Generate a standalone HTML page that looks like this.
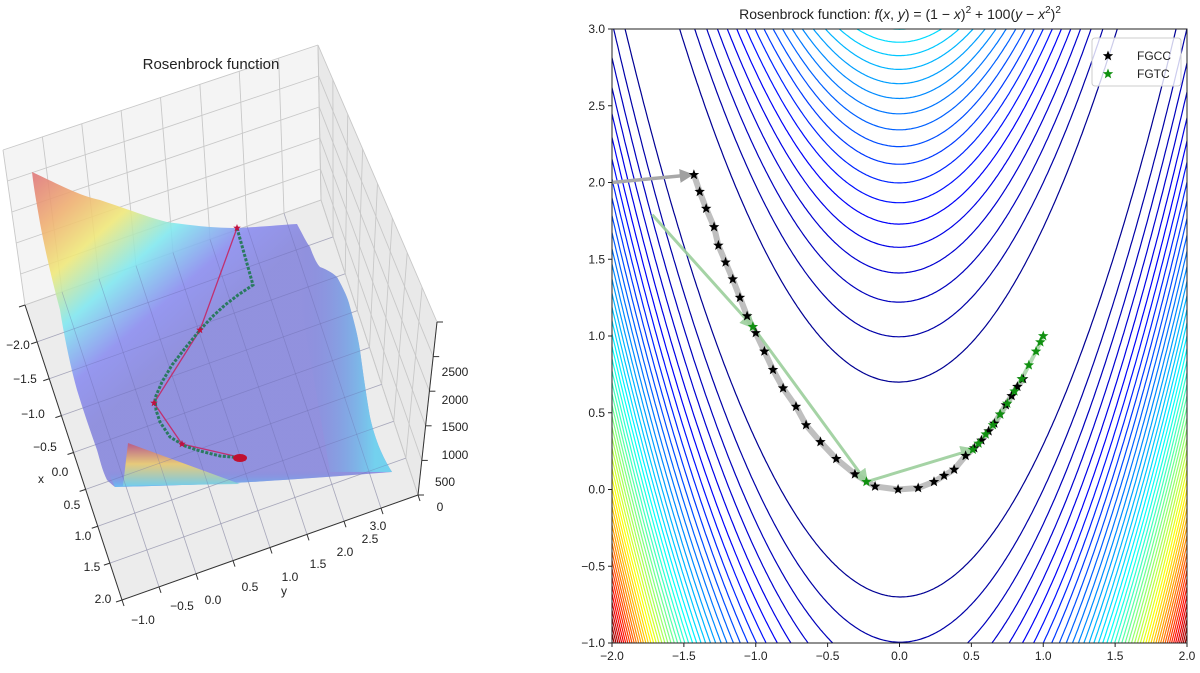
<!DOCTYPE html>
<html><head><meta charset="utf-8">
<style>
html,body{margin:0;padding:0;background:#fff;overflow:hidden;width:1200px;height:673px;}
svg{display:block;font-family:"Liberation Sans","DejaVu Sans",sans-serif;}
</style></head>
<body>
<svg id="root" width="1200" height="673" viewBox="0 0 1200 673">
  <defs>
    <clipPath id="axclip"><rect x="612" y="29" width="575" height="614"/></clipPath>
    <linearGradient id="surfGrad" gradientUnits="userSpaceOnUse" x1="35" y1="175" x2="185" y2="345">
      <stop offset="0" stop-color="#e07878"/>
      <stop offset="0.2" stop-color="#f0b070"/>
      <stop offset="0.38" stop-color="#f0e878"/>
      <stop offset="0.58" stop-color="#80e8f0"/>
      <stop offset="0.8" stop-color="#8a8cf0"/>
      <stop offset="1" stop-color="#8585dc"/>
    </linearGradient>
    <linearGradient id="rightGrad" gradientUnits="userSpaceOnUse" x1="300" y1="300" x2="375" y2="300">
      <stop offset="0" stop-color="#8585dc" stop-opacity="0"/>
      <stop offset="1" stop-color="#70d8f0" stop-opacity="0.9"/>
    </linearGradient>
    <linearGradient id="wedgeGrad" gradientUnits="userSpaceOnUse" x1="125" y1="445" x2="125" y2="487">
      <stop offset="0" stop-color="#c06080"/>
      <stop offset="0.45" stop-color="#f0d070"/>
      <stop offset="1" stop-color="#70d0f0"/>
    </linearGradient>
    <linearGradient id="bottomGrad" gradientUnits="userSpaceOnUse" x1="0" y1="470" x2="0" y2="488">
      <stop offset="0" stop-color="#8585dc" stop-opacity="0"/>
      <stop offset="1" stop-color="#60c8f8" stop-opacity="0.9"/>
    </linearGradient>
    <marker id="grayHead" viewBox="0 0 10 10" refX="8" refY="5" markerWidth="4" markerHeight="4" orient="auto">
      <path d="M0,0 L10,5 L0,10 z" fill="#a0a0a0"/>
    </marker>
    <marker id="greenHead" viewBox="0 0 10 10" refX="8" refY="5" markerWidth="5" markerHeight="5" orient="auto">
      <path d="M0,0 L10,5 L0,10 z" fill="#9ccf9c"/>
    </marker>
  </defs>

  <!-- ===== LEFT 3D PLOT ===== -->
  <g id="left3d">
    <g id="panes"></g>
    <g id="surface">
      <path d="M32,172 C60,185 80,196 100,200 C130,210 150,218 167,222 C195,226 215,228 237,228 C260,227 280,225 297,224 C303,235 306,242 310,247 C314,258 317,264 320,267 C328,270 334,274 337,277 C344,290 348,298 350,307 C355,325 358,337 360,350 C364,380 367,400 370,417 C375,440 383,458 392,472 C340,476 290,480 233,483 C190,485 150,486 115,487 C110,483 108,481 107,480 C102,470 100,460 97,450 C90,430 83,410 77,390 C70,365 64,335 60,310 C52,280 45,250 40,223 C37,205 34,190 32,172 Z" fill="url(#surfGrad)" opacity="0.88"/>
      <path d="M297,224 C303,235 306,242 310,247 C314,258 317,264 320,267 C328,270 334,274 337,277 C344,290 348,298 350,307 C355,325 358,337 360,350 C364,380 367,400 370,417 C375,440 383,458 392,472 L330,472 L300,300 Z" fill="url(#rightGrad)"/>
      <path d="M107,470 L392,465 L392,472 C340,476 290,480 233,483 C190,485 150,486 115,487 Z" fill="url(#bottomGrad)"/>
      <path d="M128,443 L123,486 L240,484 Z" fill="url(#wedgeGrad)" opacity="0.9"/>
    </g>
    <g id="surfgrid"></g>
    <g id="path3d"></g>
    <g id="axes3d"></g>
    <text x="211" y="69" font-size="15" text-anchor="middle" fill="#222">Rosenbrock function</text>
  </g>

  <!-- ===== RIGHT CONTOUR PLOT ===== -->
  <g id="right">
    <text x="900" y="19" font-size="14" text-anchor="middle" fill="#222">Rosenbrock function:  <tspan font-style="italic">f</tspan>(<tspan font-style="italic">x</tspan>, <tspan font-style="italic">y</tspan>) = (1 − <tspan font-style="italic">x</tspan>)<tspan dy="-6" font-size="10">2</tspan><tspan dy="6"> + 100(</tspan><tspan font-style="italic">y</tspan> − <tspan font-style="italic">x</tspan><tspan dy="-6" font-size="10">2</tspan><tspan dy="6">)</tspan><tspan dy="-6" font-size="10">2</tspan></text>
    <g id="contours" clip-path="url(#axclip)"></g>
    <g id="arrows" clip-path="url(#axclip)"></g>
    <g id="markers"></g>
    <rect x="612" y="29" width="575" height="614" fill="none" stroke="#222" stroke-width="1"/>
    <g id="ticks"></g>
    <g id="legend">
      <rect x="1092" y="38" width="89" height="48" rx="3" fill="#fff" fill-opacity="0.8" stroke="#ccc"/>
      <g id="legStars"></g>
      <text x="1137" y="60" font-size="12" fill="#222">FGCC</text>
      <text x="1137" y="78" font-size="12" fill="#222">FGTC</text>
    </g>
  </g>
</svg>

<script>
// ---- chart data ----
const levels = [];
for (let c = 50; c <= 2500; c += 50) levels.push(c);
const xTicks = [-2.0, -1.5, -1.0, -0.5, 0.0, 0.5, 1.0, 1.5, 2.0];
const yTicks = [-1.0, -0.5, 0.0, 0.5, 1.0, 1.5, 2.0, 2.5, 3.0];
const fgccX = [-1.43,-1.39,-1.345,-1.29,-1.26,-1.21,-1.16,-1.11,-1.06,-1.0,-0.94,-0.88,-0.81,-0.72,-0.65,-0.55,-0.44,-0.31,-0.17,-0.01,0.13,0.24,0.31,0.38,0.46,0.52,0.57,0.62,0.66,0.70,0.74,0.78,0.82,0.86];
const fgccY = [2.05,1.94,1.83,1.71,1.59,1.48,1.37,1.25,1.13,1.02,0.90,0.78,0.66,0.54,0.42,0.31,0.20,0.10,0.02,0.0,0.01,0.05,0.09,0.13,0.22,0.27,0.32,0.38,0.43,0.49,0.55,0.61,0.67,0.72];
const fgtcX = [-1.02,-0.23,0.51,0.55,0.60,0.65,0.70,0.75,0.80,0.85,0.90,0.95,0.98,1.0];
const fgtcY = [1.06,0.05,0.26,0.30,0.36,0.42,0.49,0.56,0.64,0.72,0.81,0.90,0.96,1.0];
const grayStart = [-2.0, 2.0];
const greenStart = [-1.72, 1.79];

const NS = "http://www.w3.org/2000/svg";
function mk(tag, attrs, parent) {
  const e = document.createElementNS(NS, tag);
  for (const k in attrs) e.setAttribute(k, attrs[k]);
  if (parent) parent.appendChild(e);
  return e;
}
const X0 = 612, X1 = 1187, Y0 = 643, Y1 = 29;
const sx = x => X0 + (x + 2) / 4 * (X1 - X0);
const sy = y => Y0 - (y + 1) / 4 * (Y0 - Y1);

function jet(t) {
  t = Math.max(0, Math.min(1, t));
  const cl = v => Math.round(255 * Math.max(0, Math.min(1, v)));
  return `rgb(${cl(1.5 - Math.abs(4*t - 3))},${cl(1.5 - Math.abs(4*t - 2))},${cl(1.5 - Math.abs(4*t - 1))})`;
}

const cg = document.getElementById('contours');
levels.forEach(c => {
  const col = jet(c / 2500);
  [1, -1].forEach(sgn => {
    let pts = [];
    for (let i = 0; i <= 400; i++) {
      const x = -2 + i * 0.01;
      const d = c - (1 - x) * (1 - x);
      if (d < 0) continue;
      const y = x * x + sgn * Math.sqrt(d) / 10;
      pts.push(sx(x).toFixed(1) + ',' + sy(y).toFixed(1));
    }
    const pl = mk('polyline', {points: pts.join(' '), fill: 'none', stroke: col, 'stroke-width': 1.2}, cg);
    
    
  });
});

const ag = document.getElementById('arrows');
const ga = mk('line', {x1: sx(grayStart[0]), y1: sy(grayStart[1]), x2: sx(fgccX[0]) - 3, y2: sy(fgccY[0]), stroke: '#a8a8a8', 'stroke-width': 3.5, 'marker-end': 'url(#grayHead)'}, ag);


const band = mk('polyline', {points: fgccX.map((x, i) => sx(x) + ',' + sy(fgccY[i])).join(' '), fill: 'none', stroke: '#b4b4b4', 'stroke-width': 6, 'stroke-linejoin': 'round', opacity: 0.85}, ag);


const gpts = [greenStart].concat(fgtcX.slice(0, 3).map((x, i) => [x, fgtcY[i]]));
for (let i = 0; i < gpts.length - 1; i++) {
  const a = gpts[i], b = gpts[i + 1];
  const ln = mk('line', {x1: sx(a[0]), y1: sy(a[1]), x2: sx(b[0]), y2: sy(b[1]), stroke: '#9ccf9c', 'stroke-width': 3, opacity: 0.9, 'marker-end': 'url(#greenHead)'}, ag);
  
  
}
const gband = mk('polyline', {points: fgtcX.slice(2).map((x, i) => sx(x) + ',' + sy(fgtcY[i + 2])).join(' '), fill: 'none', stroke: '#9ccf9c', 'stroke-width': 4, opacity: 0.8}, ag);



function starPts(cx, cy, r) {
  let p = [];
  for (let k = 0; k < 10; k++) {
    const rr = k % 2 ? r * 0.42 : r;
    const a = -Math.PI / 2 + k * Math.PI / 5;
    p.push((cx + rr * Math.cos(a)).toFixed(1) + ',' + (cy + rr * Math.sin(a)).toFixed(1));
  }
  return p.join(' ');
}
const mg = document.getElementById('markers');
fgccX.forEach((x, i) => {
  const s = mk('polygon', {points: starPts(sx(x), sy(fgccY[i]), 5.5), fill: '#000'}, mg);
  
  
});
fgtcX.forEach((x, i) => {
  const s = mk('polygon', {points: starPts(sx(x), sy(fgtcY[i]), 5.5), fill: '#109010'}, mg);
  
  
});
const ls = document.getElementById('legStars');
const l1 = mk('polygon', {points: starPts(1108, 56, 5.5), fill: '#000'}, ls);


const l2 = mk('polygon', {points: starPts(1108, 74, 5.5), fill: '#109010'}, ls);



const tg = document.getElementById('ticks');
xTicks.forEach(v => {
  mk('line', {x1: sx(v), y1: Y0, x2: sx(v), y2: Y0 + 4, stroke: '#222'}, tg);
  const t = mk('text', {x: sx(v), y: Y0 + 17, 'font-size': 12, 'text-anchor': 'middle', fill: '#222'}, tg);
  t.textContent = (v < 0 ? '−' : '') + Math.abs(v).toFixed(1);
  
  
});
yTicks.forEach(v => {
  mk('line', {x1: X0 - 4, y1: sy(v), x2: X0, y2: sy(v), stroke: '#222'}, tg);
  const t = mk('text', {x: X0 - 7, y: sy(v) + 4, 'font-size': 12, 'text-anchor': 'end', fill: '#222'}, tg);
  t.textContent = (v < 0 ? '−' : '') + Math.abs(v).toFixed(1);
  
  
});

// ---- left 3D panes ----
const P = {
  f00: [25, 305], f10: [122, 600], f11: [418, 495], f01: [321, 200],
  tA0: [3, 150], tA1: [318, 45], tB1: [437, 322]
};
const lerp = (a, b, t) => [a[0] + (b[0] - a[0]) * t, a[1] + (b[1] - a[1]) * t];
const pg = document.getElementById('panes');
function poly(pts, fill, name) {
  const e = mk('polygon', {points: pts.map(p => p.join(',')).join(' '), fill: fill, stroke: 'none'}, pg);
  
  
}
poly([P.f00, P.f10, P.f11, P.f01], '#ececec', 'floor-pane');
poly([P.f00, P.f01, P.tA1, P.tA0], '#f4f4f4', 'back-wall-pane');
poly([P.f01, P.f11, P.tB1, P.tA1], '#e9e9e9', 'side-wall-pane');
function gl(a, b, g) { mk('line', {x1: a[0], y1: a[1], x2: b[0], y2: b[1], stroke: '#c8c8c8', 'stroke-width': 0.9}, g || pg); }
for (let i = 0; i <= 8; i++) {
  const t = i / 8;
  gl(lerp(P.f00, P.f10, t), lerp(P.f01, P.f11, t));
  gl(lerp(P.f00, P.f01, t), lerp(P.f10, P.f11, t));
  gl(lerp(P.f00, P.f01, t), lerp(P.tA0, P.tA1, t));
  gl(lerp(P.f01, P.f11, t), lerp(P.tA1, P.tB1, t));
}
for (let k = 0; k <= 5; k++) {
  const t = k / 5;
  gl(lerp(P.f00, P.tA0, t), lerp(P.f01, P.tA1, t));
  gl(lerp(P.f01, P.tA1, t), lerp(P.f11, P.tB1, t));
}
// faint grid seen through translucent surface
const sg = document.getElementById('surfgrid');
for (let i = 1; i < 8; i++) {
  const t = i / 8;
  const a = lerp(P.f00, P.f10, t), b = lerp(P.f01, P.f11, t);
  mk('line', {x1: a[0], y1: a[1], x2: b[0], y2: b[1], stroke: '#6a6aa8', 'stroke-width': 0.7, opacity: 0.35}, sg);
  const c = lerp(P.f00, P.f01, t), d = lerp(P.f10, P.f11, t);
  mk('line', {x1: c[0], y1: c[1], x2: d[0], y2: d[1], stroke: '#6a6aa8', 'stroke-width': 0.7, opacity: 0.35}, sg);
}

const ax = document.getElementById('axes3d');
function axl(a, b) { mk('line', {x1: a[0], y1: a[1], x2: b[0], y2: b[1], stroke: '#333', 'stroke-width': 1}, ax); }
axl(P.f00, P.f10); axl(P.f10, P.f11); axl(P.f11, P.tB1);
const xl3 = ['−2.0','−1.5','−1.0','−0.5','0.0','0.5','1.0','1.5','2.0'];
const yl3 = ['−1.0','−0.5','0.0','0.5','1.0','1.5','2.0','2.5','3.0'];
const zl3 = ['0','500','1000','1500','2000','2500'];
const xPos = [[18,349],[25,383],[33,418],[45,451],[60,476],[72,509],[83,540],[92,571],[103,603]];
const yPos = [[143,624],[182,610],[213,604],[250,591],[290,581],[318,568],[345,556],[370,543],[378,530]];
const zPos = [[440,511],[445,486],[455,459],[455,431],[455,404],[455,376]];
xl3.forEach((s, i) => {
  const p = lerp(P.f00, P.f10, i / 8);
  axl(p, [p[0] - 6, p[1] + 2]);
  const t = mk('text', {x: xPos[i][0], y: xPos[i][1], 'font-size': 12, 'text-anchor': 'middle', fill: '#222'}, ax);
  t.textContent = s;
  
  
});
yl3.forEach((s, i) => {
  const p = lerp(P.f10, P.f11, i / 8);
  axl(p, [p[0] + 2, p[1] + 6]);
  const t = mk('text', {x: yPos[i][0], y: yPos[i][1], 'font-size': 12, 'text-anchor': 'middle', fill: '#222'}, ax);
  t.textContent = s;
  
  
});
zl3.forEach((s, i) => {
  const p = lerp(P.f11, P.tB1, i / 5);
  axl(p, [p[0] + 6, p[1]]);
  const t = mk('text', {x: zPos[i][0], y: zPos[i][1], 'font-size': 12, 'text-anchor': 'middle', fill: '#222'}, ax);
  t.textContent = s;
  
  
});
const xlab = mk('text', {x: 41, y: 483, 'font-size': 12, 'text-anchor': 'middle', fill: '#222'}, ax);
xlab.textContent = 'x';


const ylab = mk('text', {x: 284, y: 595, 'font-size': 12, 'text-anchor': 'middle', fill: '#222'}, ax);
ylab.textContent = 'y';



const p3 = document.getElementById('path3d');
const red3 = [[237,228],[200,330],[154,403],[182,444],[243,458]];
const green3 = [[237,228],[253,285],[238,295],[225,305],[212,317],[200,330],[186,347],[172,365],[162,382],[155,398],[156,410],[160,422],[170,437],[185,446],[200,451],[220,456],[243,458]];
const rp = mk('polyline', {points: red3.map(p => p.join(',')).join(' '), fill: 'none', stroke: '#c03070', 'stroke-width': 1.3}, p3);


const gp = mk('polyline', {points: green3.map(p => p.join(',')).join(' '), fill: 'none', stroke: '#2a7a60', 'stroke-width': 3, 'stroke-dasharray': '3,1.5'}, p3);


red3.forEach(p => {
  const s = mk('polygon', {points: starPts(p[0], p[1], 4), fill: '#c01040'}, p3);
  
  
});
const endBlob = mk('ellipse', {cx: 240, cy: 458, rx: 7, ry: 4, fill: '#c01030'}, p3);


</script>
</body></html>
